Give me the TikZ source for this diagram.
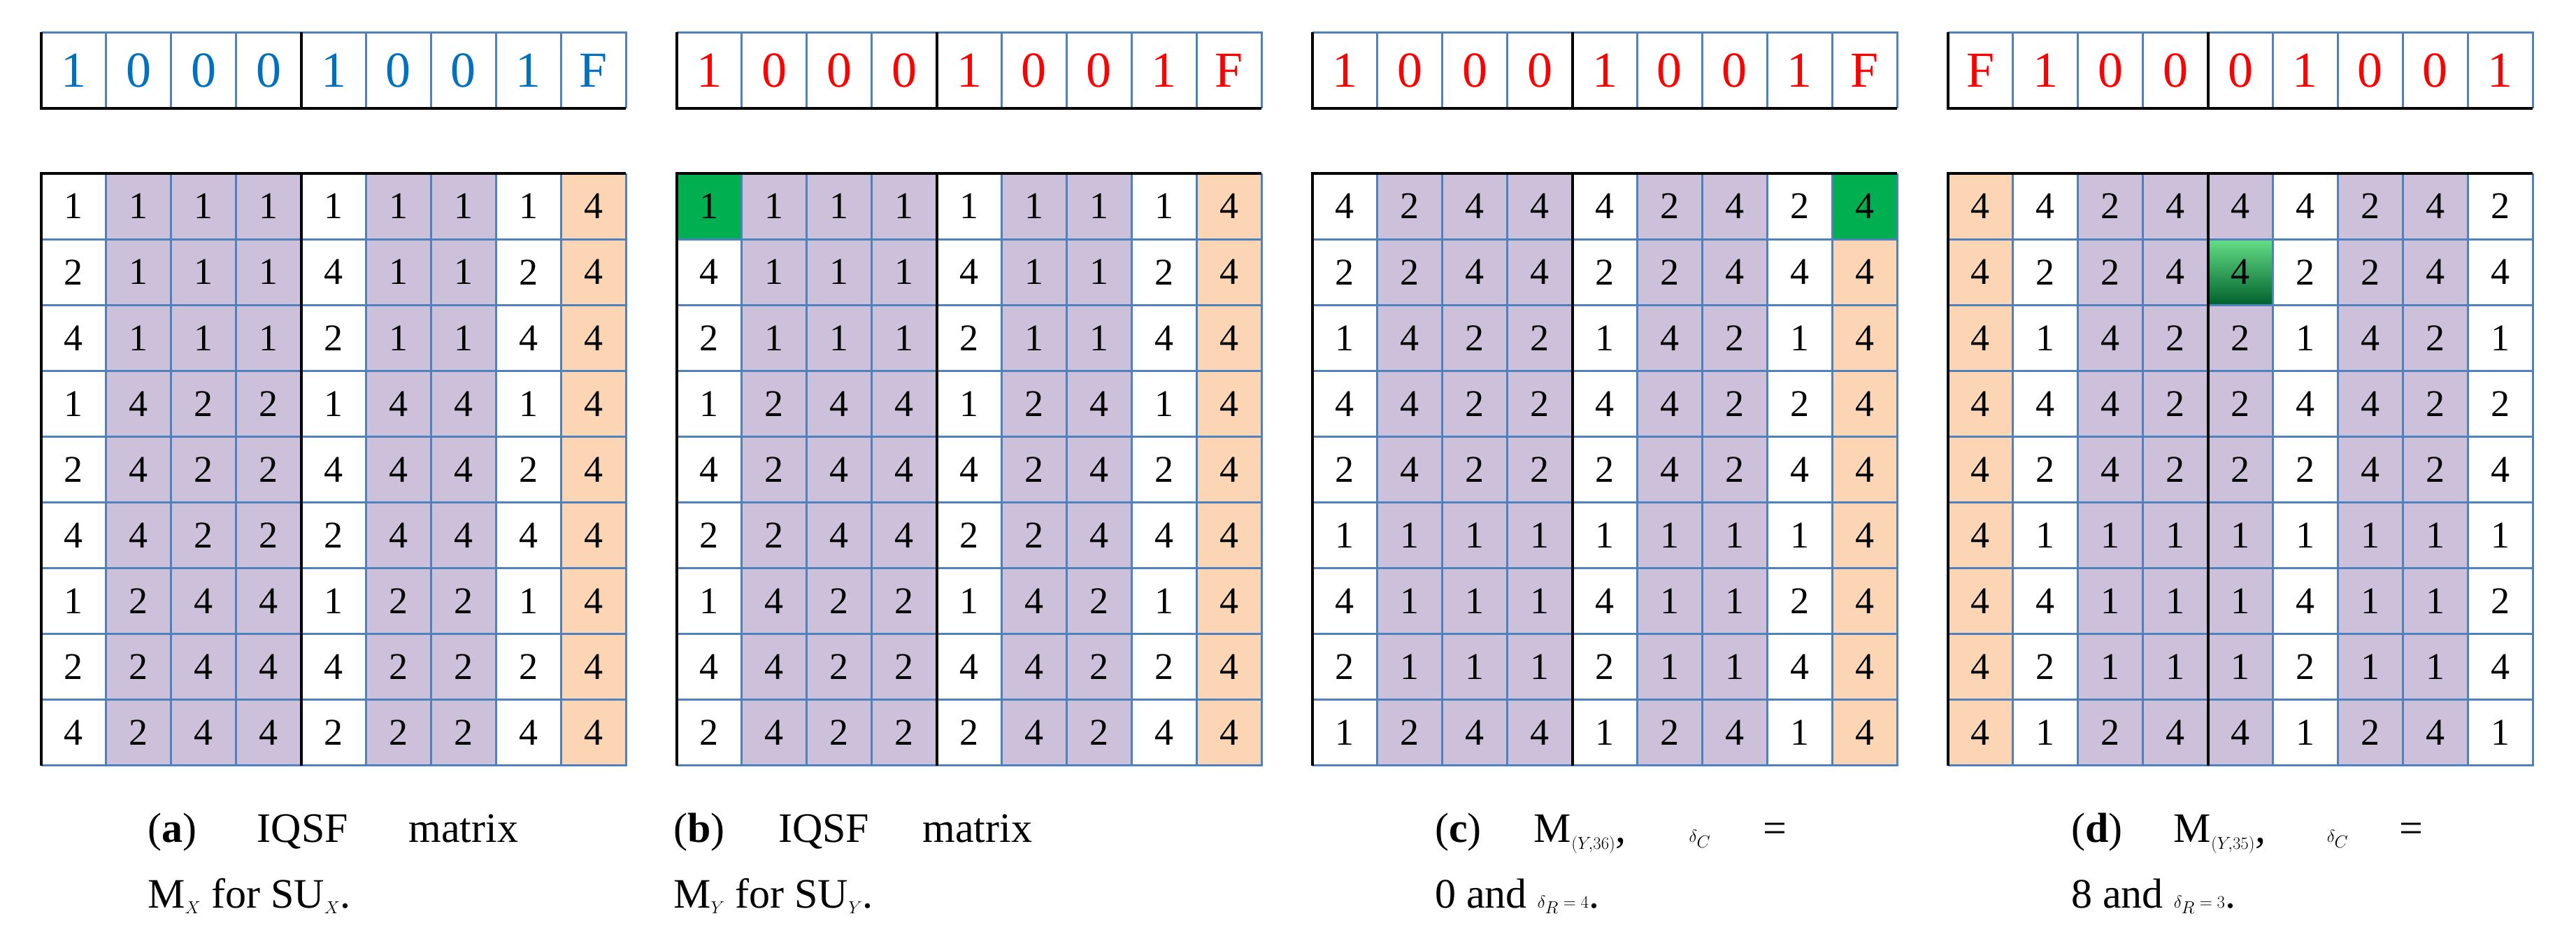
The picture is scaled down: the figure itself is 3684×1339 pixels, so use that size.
\documentclass[tikz,border=0pt]{standalone}
\usepackage{fontspec}
\setmainfont{Liberation Serif}
\definecolor{lav}{RGB}{204,192,218}
\definecolor{peach}{RGB}{252,213,180}
\definecolor{gr}{RGB}{0,176,80}
\definecolor{bl}{RGB}{79,129,189}
\definecolor{tblue}{RGB}{0,112,192}
\definecolor{tred}{RGB}{255,0,0}
\tikzset{cell/.style={inner sep=0pt,font=\fontsize{54}{60}\selectfont},
 bitcell/.style={inner sep=0pt,font=\fontsize{72}{80}\selectfont},
 bline/.style={bl,line width=3pt},
 kline/.style={black,line width=4pt},
 capt/.style={anchor=base west,inner sep=0pt,font=\fontsize{60}{70}\selectfont}}
\def\W{92.9}\def\H{94.1}
% #1 name, #2 x0, #3 text colour, #4 bits, #5 data, #6 lavender cols, #7 peach col
\newcommand\drawpanel[7]{%
 \foreach \c in {#6} {\fill[lav] ({#2+(\c-1)*\W},248) rectangle ++(\W,{9*\H});}
 \fill[peach] ({#2+(#7-1)*\W},248) rectangle ++(\W,{9*\H});
}
\newcommand\drawlines[2]{%
 \foreach \i in {1,...,8} {\draw[bline] ({#2+\i*\W},46) -- ++(0,109);
   \draw[bline] ({#2+\i*\W},248) -- ++(0,{9*\H});
   \draw[bline] (#2,{248+\i*\H}) -- ++({9*\W},0);}
 \draw[bline] (#2,46) -- ++({9*\W},0) -- ++(0,109);
 \draw[bline] ({#2+9*\W},248) -- ++(0,{9*\H}) -- ++({-9*\W},0);
 \draw[kline] ({#2+9*\W},155) -- (#2,155) -- (#2,46);
 \draw[kline] ({#2+4*\W},46) -- ++(0,109);
 \draw[kline] ({#2+9*\W},248) -- (#2,248) -- (#2,{248+9*\H});
 \draw[kline] ({#2+4*\W},248) -- ++(0,{9*\H});
}
\newcommand\drawtext[5]{%
 \foreach \v [count=\c] in {#4} {\node[bitcell,text=#3] (#1-b\c) at ({#2+(\c-0.5)*\W},100.5) {\v};}
 \foreach \row [count=\r] in {#5} {
   \foreach \v [count=\c] in \row {\node[cell] (#1-\r-\c) at ({#2+(\c-0.5)*\W},{248+(\r-0.5)*\H}) {\v};}}
}
\begin{document}
\begin{tikzpicture}[x=1pt,y=-1pt]
\useasboundingbox (0,0) rectangle (3684,1339);
\drawpanel{a}{59}{}{}{}{2,3,4,6,7}{9}
\drawpanel{b}{968}{}{}{}{2,3,4,6,7}{9}
\drawpanel{c}{1877}{}{}{}{2,3,4,6,7}{9}
\drawpanel{d}{2786}{}{}{}{3,4,5,7,8}{1}
\fill[gr] (968,248) rectangle ++(\W,\H);
\fill[gr] ({1877+8*\W},248) rectangle ++(\W,\H);
\shade[top color=gr!70!green!60!white,bottom color=gr!55!black] ({2786+4*\W},{248+\H}) rectangle ++(\W,\H);
\drawlines{a}{59}\drawlines{b}{968}\drawlines{c}{1877}\drawlines{d}{2786}
\drawtext{a}{59}{tblue}{1,0,0,0,1,0,0,1,F}{{1,1,1,1,1,1,1,1,4},{2,1,1,1,4,1,1,2,4},{4,1,1,1,2,1,1,4,4},{1,4,2,2,1,4,4,1,4},{2,4,2,2,4,4,4,2,4},{4,4,2,2,2,4,4,4,4},{1,2,4,4,1,2,2,1,4},{2,2,4,4,4,2,2,2,4},{4,2,4,4,2,2,2,4,4}}
\drawtext{b}{968}{tred}{1,0,0,0,1,0,0,1,F}{{1,1,1,1,1,1,1,1,4},{4,1,1,1,4,1,1,2,4},{2,1,1,1,2,1,1,4,4},{1,2,4,4,1,2,4,1,4},{4,2,4,4,4,2,4,2,4},{2,2,4,4,2,2,4,4,4},{1,4,2,2,1,4,2,1,4},{4,4,2,2,4,4,2,2,4},{2,4,2,2,2,4,2,4,4}}
\drawtext{c}{1877}{tred}{1,0,0,0,1,0,0,1,F}{{4,2,4,4,4,2,4,2,4},{2,2,4,4,2,2,4,4,4},{1,4,2,2,1,4,2,1,4},{4,4,2,2,4,4,2,2,4},{2,4,2,2,2,4,2,4,4},{1,1,1,1,1,1,1,1,4},{4,1,1,1,4,1,1,2,4},{2,1,1,1,2,1,1,4,4},{1,2,4,4,1,2,4,1,4}}
\drawtext{d}{2786}{tred}{F,1,0,0,0,1,0,0,1}{{4,4,2,4,4,4,2,4,2},{4,2,2,4,4,2,2,4,4},{4,1,4,2,2,1,4,2,1},{4,4,4,2,2,4,4,2,2},{4,2,4,2,2,2,4,2,4},{4,1,1,1,1,1,1,1,1},{4,4,1,1,1,4,1,1,2},{4,2,1,1,1,2,1,1,4},{4,1,2,4,4,1,2,4,1}}
\node[capt] (ca1) at (211,1204) {\makebox[530pt][s]{(\textbf{a}) IQSF matrix}};
\node[capt] (ca2) at (211,1298) {M$_X$ for SU$_X$.};
\node[capt] (cb1) at (963,1204) {\makebox[513pt][s]{(\textbf{b}) IQSF matrix}};
\node[capt] (cb2) at (963,1298) {M$_Y$ for SU$_Y$.};
\node[capt] (cc1) at (2052,1204) {\makebox[503pt][s]{(\textbf{c}) M$_{(Y,36)}$, $\delta_C$ =}};
\node[capt] (cc2) at (2052,1298) {0 and $\delta_R = 4$.};
\node[capt] (cd1) at (2962,1204) {\makebox[503pt][s]{(\textbf{d}) M$_{(Y,35)}$, $\delta_C$ =}};
\node[capt] (cd2) at (2962,1298) {8 and $\delta_R = 3$.};
\end{tikzpicture}
\end{document}
